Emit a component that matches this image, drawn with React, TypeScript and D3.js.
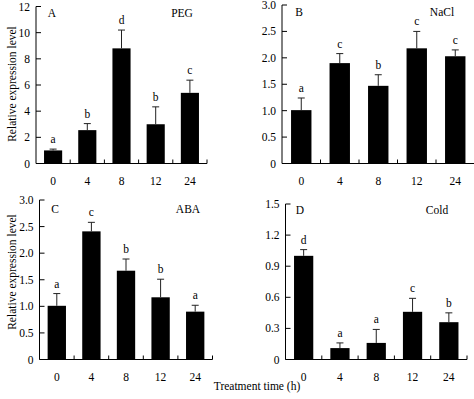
import React from "react";
import * as d3 from "d3";

const categories = ["0", "4", "8", "12", "24"];

const pegMean = [1.0, 2.55, 8.8, 3.0, 5.4];
const pegErr = [0.1, 0.5, 1.4, 1.33, 0.97];
const pegLetters = ["a", "b", "d", "b", "c"];

const naclMean = [1.01, 1.9, 1.47, 2.18, 2.03];
const naclErr = [0.23, 0.18, 0.21, 0.32, 0.12];
const naclLetters = ["a", "c", "b", "c", "c"];

const abaMean = [1.01, 2.41, 1.67, 1.17, 0.9];
const abaErr = [0.23, 0.17, 0.22, 0.34, 0.12];
const abaLetters = ["a", "c", "b", "b", "a"];

const coldMean = [1.0, 0.11, 0.16, 0.46, 0.36];
const coldErr = [0.06, 0.05, 0.13, 0.13, 0.09];
const coldLetters = ["d", "a", "a", "c", "b"];

const pegTicks = [0, 2, 4, 6, 8, 10, 12];
const naclTicks = [0, 0.5, 1.0, 1.5, 2.0, 2.5, 3.0];
const abaTicks = [0, 0.5, 1.0, 1.5, 2.0, 2.5, 3.0];
const coldTicks = [0, 0.3, 0.6, 0.9, 1.2, 1.5];

const FONT = "Liberation Serif";
const FS = 11.5;

type PanelProps = {
  x0: number; x1: number; yTop: number; yBottom: number;
  max: number; ticks: number[]; fmt: (v: number) => string;
  means: number[]; errs: number[]; letters: string[];
  panel: string; panelX: number; treat: string; treatX: number; labelY: number;
};

function Panel(p: PanelProps) {
  const x = d3.scaleBand<string>().domain(categories).range([p.x0, p.x1]).paddingInner(0.47).paddingOuter(0.235);
  const y = d3.scaleLinear().domain([0, p.max]).range([p.yBottom, p.yTop]);
  const step = x.step();
  const bw = x.bandwidth();
  return (
    <g style={{ fontFamily: FONT, fontSize: FS }} fill="#000">
      {categories.map((c, i) => {
        const cx = (x(c) as number) + bw / 2;
        const top = y(p.means[i]);
        const et = y(p.means[i] + p.errs[i]);
        return (
          <g key={c}>
            <rect x={x(c)} y={top} width={bw} height={p.yBottom - top} fill="#000" />
            <line x1={cx} x2={cx} y1={top} y2={et} stroke="#222" strokeWidth={1} />
            <line x1={cx - 3.5} x2={cx + 3.5} y1={et} y2={et} stroke="#222" strokeWidth={1} />
            <text x={cx} y={et - 6} textAnchor="middle">{p.letters[i]}</text>
            <text x={cx} y={p.yBottom + 21} textAnchor="middle">{c}</text>
          </g>
        );
      })}
      <line x1={p.x0} x2={p.x0} y1={p.yTop} y2={p.yBottom} stroke="#000" strokeWidth={1} />
      <line x1={p.x0} x2={p.x1} y1={p.yBottom} y2={p.yBottom} stroke="#000" strokeWidth={1} />
      {categories.map((c, i) => {
        const tx = p.x0 + step * (i + 1);
        return <line key={"xt" + c} x1={tx} x2={tx} y1={p.yBottom} y2={p.yBottom - 4} stroke="#000" />;
      })}
      {p.ticks.map((t) => (
        <g key={"yt" + t}>
          <line x1={p.x0} x2={p.x0 + 5} y1={y(t)} y2={y(t)} stroke="#000" />
          <text x={p.x0 - 6} y={y(t) + 4} textAnchor="end">{p.fmt(t)}</text>
        </g>
      ))}
      <text x={p.panelX} y={p.labelY} textAnchor="middle">{p.panel}</text>
      <text x={p.treatX} y={p.labelY} textAnchor="middle">{p.treat}</text>
    </g>
  );
}

const fmtInt = (v: number) => d3.format("d")(v);
const fmt1 = (v: number) => (v === 0 ? "0" : d3.format(".1f")(v));

export default function App() {
  return (
    <svg width={474} height={399} style={{ position: "absolute", left: 0, top: 0, background: "#fff" }}>
      <Panel x0={36} x1={207} yTop={6.5} yBottom={163.5} max={12} ticks={pegTicks} fmt={fmtInt}
        means={pegMean} errs={pegErr} letters={pegLetters} panel="A" panelX={52} treat="PEG" treatX={182} labelY={17} />
      <Panel x0={282} x1={474.5} yTop={5} yBottom={163.5} max={3} ticks={naclTicks} fmt={fmt1}
        means={naclMean} errs={naclErr} letters={naclLetters} panel="B" panelX={299} treat="NaCl" treatX={442} labelY={16} />
      <Panel x0={39.5} x1={212.5} yTop={200} yBottom={359.5} max={3} ticks={abaTicks} fmt={fmt1}
        means={abaMean} errs={abaErr} letters={abaLetters} panel="C" panelX={55} treat="ABA" treatX={188} labelY={213} />
      <Panel x0={285.5} x1={467} yTop={204} yBottom={359.5} max={1.5} ticks={coldTicks} fmt={fmt1}
        means={coldMean} errs={coldErr} letters={coldLetters} panel="D" panelX={300} treat="Cold" treatX={437} labelY={214} />
      <g style={{ fontFamily: FONT, fontSize: FS }} fill="#000">
        <text transform="translate(16,84) rotate(-90)" textAnchor="middle">Relative expression level</text>
        <text transform="translate(16,272) rotate(-90)" textAnchor="middle">Relative expression level</text>
        <text x={257} y={390} textAnchor="middle">Treatment time (h)</text>
      </g>
    </svg>
  );
}
